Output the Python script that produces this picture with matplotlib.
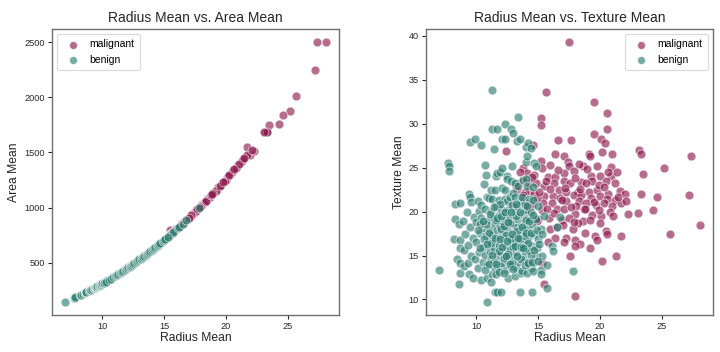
import matplotlib
matplotlib.use("Agg")
import matplotlib.pyplot as plt

benign_radius = [7.0, 7.7, 7.8, 7.8, 8.2, 8.3, 8.3, 8.4, 8.6, 8.6, 8.7, 8.7, 8.7, 8.7, 8.7, 8.9, 9.0, 9.0, 9.1, 9.2,
                 9.3, 9.3, 9.4, 9.4, 9.5, 9.5, 9.5, 9.6, 9.6, 9.7, 9.7, 9.8, 9.9, 9.9, 10.0, 10.0, 10.1, 10.1, 10.2, 10.2,
                 10.3, 10.4, 10.4, 10.4, 10.4, 10.5, 10.5, 10.6, 10.6, 10.7, 10.7, 10.7, 10.8, 10.8, 10.9, 10.9, 10.9, 10.9, 11.0, 11.0,
                 11.0, 11.1, 11.1, 11.2, 11.2, 11.2, 11.3, 11.3, 11.3, 11.3, 11.3, 11.4, 11.4, 11.4, 11.5, 11.5, 11.5, 11.5, 11.6, 11.6,
                 11.6, 11.6, 11.7, 11.7, 11.7, 11.7, 11.7, 11.8, 11.8, 11.8, 11.9, 11.9, 11.9, 12.0, 12.0, 12.0, 12.0, 12.1, 12.1, 12.1,
                 12.1, 12.1, 12.2, 12.2, 12.3, 12.3, 12.3, 12.3, 12.3, 12.3, 12.4, 12.4, 12.4, 12.5, 12.5, 12.5, 12.5, 12.5, 12.6, 12.6,
                 12.6, 12.7, 12.7, 12.7, 12.8, 12.8, 12.8, 12.8, 12.9, 12.9, 12.9, 13.0, 13.0, 13.0, 13.0, 13.1, 13.1, 13.1, 13.1, 13.1,
                 13.2, 13.2, 13.2, 13.3, 13.3, 13.3, 13.4, 13.4, 13.4, 13.4, 13.5, 13.5, 13.5, 13.5, 13.6, 13.6, 13.6, 13.7, 13.7, 13.7,
                 13.7, 13.8, 13.8, 13.8, 13.9, 13.9, 14.0, 14.0, 14.0, 14.0, 14.0, 14.1, 14.1, 14.1, 14.1, 14.1, 14.2, 14.2, 14.2, 14.3,
                 14.3, 14.4, 14.4, 14.4, 14.5, 14.5, 14.5, 14.6, 14.6, 14.6, 14.6, 14.7, 14.7, 14.8, 14.8, 14.8, 14.9, 15.0, 15.0, 15.2,
                 15.2, 15.2, 15.3, 15.5, 15.7, 15.7, 16.1, 16.2, 16.5, 16.8, 17.8,
                 10.8, 11.0, 11.2, 11.4, 11.6, 11.8, 12.0, 12.2, 12.4, 12.6, 12.7, 12.9, 13.0, 13.2, 13.3, 13.5, 13.6, 13.9, 14.0, 14.2,
                 14.4, 10.6, 10.3, 11.9, 12.8, 13.9,
                 10.1, 10.3, 10.5, 10.7, 10.9, 11.0, 11.1, 11.2, 11.3, 11.4, 11.5, 11.6, 11.7, 11.8, 11.9, 12.0, 12.1, 12.2, 12.2, 12.3,
                 12.4, 12.5, 12.6, 12.7, 12.8, 12.9, 13.0, 13.1, 13.2, 13.3, 13.4, 13.5, 13.6, 13.7, 13.8, 13.9, 14.0, 14.1, 14.2, 14.3,
                 14.4, 14.5, 14.6, 14.7, 14.9, 15.0, 15.1, 15.3]
benign_texture = [13.4, 25.5, 25.2, 24.6, 16.9, 20.9, 19.2, 14.6, 11.8, 18.6, 21.0, 16.8, 15.9, 14.2, 13.0, 18.9, 15.6, 13.8, 17.4, 19.9,
                  14.2, 16.2, 12.9, 22.0, 21.7, 27.9, 18.3, 21.1, 15.0, 12.4, 17.0, 19.4, 28.2, 14.6, 16.5, 18.8, 21.2, 13.6, 20.1, 15.4,
                  17.6, 27.6, 20.8, 12.2, 19.3, 14.3, 16.0, 23.1, 18.1, 25.3, 20.3, 15.1, 24.2, 17.2, 9.7, 12.4, 21.6, 13.9, 19.0, 16.6,
                  21.5, 15.5, 18.0, 22.5, 14.6, 20.0, 33.8, 29.4, 12.9, 17.3, 21.4, 27.1, 19.3, 15.9, 10.8, 22.5, 13.6, 18.6, 24.0, 16.8,
                  12.9, 20.6, 29.4, 10.8, 24.4, 14.9, 17.9, 21.3, 19.6, 16.2, 24.5, 13.8, 18.4, 10.9, 15.4, 17.1, 20.3, 28.2, 25.0, 22.7,
                  14.2, 18.9, 16.5, 19.8, 30.0, 28.2, 22.4, 21.4, 15.0, 17.7, 13.3, 19.0, 16.0, 24.1, 23.7, 21.2, 18.2, 14.5, 12.4, 17.0,
                  20.2, 21.6, 15.6, 19.4, 29.4, 23.5, 13.8, 17.6, 25.2, 16.4, 20.8, 28.9, 18.7, 14.8, 22.1, 12.7, 23.2, 21.7, 17.2, 19.9,
                  15.4, 13.6, 18.2, 28.0, 16.6, 20.6, 30.7, 22.9, 14.3, 19.1, 28.2, 10.9, 17.5, 15.8, 21.2, 18.4, 13.0, 21.7, 13.2, 16.3,
                  19.7, 14.8, 17.9, 23.6, 15.5, 18.9, 27.3, 25.6, 23.7, 20.2, 16.8, 26.3, 22.9, 13.0, 14.3, 18.1, 27.8, 19.3, 15.6, 21.4,
                  17.2, 27.2, 13.6, 20.0, 10.9, 16.1, 18.6, 22.8, 21.3, 14.2, 13.2, 25.5, 17.4, 25.2, 14.9, 19.2, 15.8, 16.9, 20.6, 13.3,
                  12.9, 18.0, 15.0, 19.5, 11.3, 13.9, 16.1, 15.5, 18.3, 19.4, 13.2,
                  18.6, 17.6, 16.4, 14.3, 19.0, 15.5, 18.0, 14.7, 17.3, 15.2, 18.7, 14.2, 16.0, 19.5, 17.8, 16.9, 14.6, 17.2, 19.0, 16.4,
                  15.1, 16.9, 18.6, 20.9, 16.9, 20.8,
                  17.9, 15.9, 18.9, 13.3, 16.3, 14.0, 19.7, 12.0, 15.1, 20.5, 17.0, 14.0, 19.3, 13.1, 16.9, 19.5, 16.0, 13.0, 18.4, 19.9,
                  14.9, 16.6, 18.8, 14.0, 20.0, 17.4, 13.5, 16.1, 20.9, 14.9, 17.0, 20.0, 16.0, 18.3, 15.9, 13.9, 17.6, 20.6, 14.1, 18.9,
                  17.6, 14.3, 19.6, 15.6, 17.9, 14.4, 16.3, 17.4]
benign_area = [144, 178, 181, 186, 204, 210, 212, 216, 227, 229, 233, 236, 231, 238, 234, 244, 250, 253, 257, 262,
               268, 271, 274, 276, 280, 283, 278, 287, 290, 293, 296, 299, 305, 302, 311, 314, 317, 320, 324, 327,
               331, 337, 340, 335, 342, 344, 347, 351, 354, 358, 361, 356, 364, 367, 371, 368, 374, 370, 378, 381,
               376, 385, 388, 392, 395, 390, 399, 402, 397, 404, 400, 406, 409, 404, 413, 416, 411, 418, 421, 424,
               419, 426, 428, 431, 426, 433, 429, 435, 438, 433, 443, 446, 441, 450, 453, 448, 455, 458, 461, 456,
               463, 459, 466, 469, 473, 476, 471, 478, 474, 470, 481, 484, 479, 489, 492, 487, 494, 486, 497, 500,
               495, 505, 508, 503, 513, 516, 511, 518, 521, 524, 519, 529, 532, 527, 534, 537, 540, 535, 542, 538,
               545, 548, 543, 554, 557, 552, 562, 565, 560, 567, 571, 574, 569, 576, 579, 582, 577, 588, 591, 586,
               593, 596, 599, 594, 605, 608, 614, 617, 612, 619, 611, 623, 626, 621, 628, 620, 631, 634, 629, 640,
               643, 649, 652, 647, 659, 662, 656, 668, 671, 666, 664, 677, 680, 686, 689, 684, 695, 705, 708, 724,
               727, 721, 733, 752, 772, 775, 812, 822, 853, 884, 992,
               366, 379, 393, 408, 422, 436, 451, 467, 482, 498, 506, 522, 530, 546, 555, 572, 580, 606, 615, 632,
               650, 352, 333, 444, 514, 604,
               318, 330, 345, 357, 372, 380, 386, 393, 400, 407, 414, 420, 429, 436, 442, 451, 459, 467, 465, 474,
               482, 490, 498, 506, 514, 522, 530, 538, 546, 555, 563, 572, 580, 589, 597, 606, 615, 624, 632, 641,
               650, 660, 669, 678, 696, 706, 716, 734]

malignant_radius = [17.5, 15.6, 19.5, 20.6, 15.2, 15.2, 20.6, 19.5, 17.7, 16.6, 20.1, 20.4, 14.6, 12.4, 23.2, 23.3, 27.4, 19.1, 19.2, 20.2,
                    21.0, 17.1, 17.4, 17.5, 25.2, 18.6, 19.8, 20.9, 23.5, 15.2, 15.3, 13.8, 14.1, 14.7, 17.1, 17.9, 15.8, 16.4, 19.3, 20.0,
                    20.9, 17.1, 17.6, 18.5, 19.4, 20.5, 21.2, 13.7, 14.3, 14.8, 16.3, 15.5, 16.7, 17.3, 18.2, 19.1, 19.8, 21.6, 23.3, 22.0,
                    24.6, 20.7, 20.0, 15.5, 16.2, 16.8, 17.9, 18.5, 19.3, 20.6, 21.2, 21.7, 14.3, 14.7, 13.3, 13.9, 15.4, 16.1, 17.3, 18.3,
                    18.9, 19.7, 20.3, 21.0, 24.3, 23.1, 22.3, 15.3, 15.7, 16.5, 17.1, 18.1, 18.0, 19.4, 20.1, 15.9, 16.9, 17.5, 18.6, 19.2,
                    18.2, 20.0, 28.1, 27.2, 16.0, 16.5, 20.5, 20.6, 21.7, 25.7, 17.3, 18.0, 18.4, 17.1, 18.0, 19.2, 21.3, 20.2, 17.6, 15.3,
                    15.5, 18.0, 12.9, 13.2, 14.0, 14.5, 13.5, 14.9, 15.0, 14.2, 18.3, 19.9, 18.7, 21.4, 16.0, 17.8, 19.6, 16.4,
                    15.1, 15.6, 16.0, 16.6, 16.9, 17.2, 17.7, 18.0, 18.4, 18.8, 19.0, 19.5, 19.9, 20.3, 20.8, 21.1, 21.5, 22.1, 17.0, 16.4,
                    15.8, 18.8, 19.8, 14.9, 14.5, 13.8, 16.3, 17.9, 18.9, 20.7]
malignant_texture = [39.3, 33.6, 32.5, 31.2, 30.6, 29.8, 29.4, 28.8, 28.1, 28.1, 28.3, 27.8, 27.6, 26.9, 27.0, 26.6, 26.3, 26.6, 26.3, 26.8,
                     26.6, 26.3, 25.6, 25.2, 24.9, 25.2, 25.2, 25.1, 24.3, 25.7, 25.0, 24.9, 24.4, 24.2, 24.4, 24.6, 23.9, 23.9, 24.0, 24.0,
                     24.0, 23.5, 23.2, 23.4, 23.5, 23.5, 23.2, 23.5, 23.2, 23.2, 23.2, 22.9, 22.5, 22.2, 22.2, 22.2, 22.4, 22.3, 22.0, 22.0,
                     21.6, 22.0, 21.8, 21.8, 21.8, 21.5, 21.9, 21.9, 21.5, 21.4, 21.3, 21.0, 22.3, 22.0, 22.5, 22.2, 21.0, 21.0, 21.2, 21.2,
                     21.0, 20.8, 21.0, 20.6, 20.2, 19.8, 19.7, 20.2, 20.3, 20.3, 20.3, 20.6, 19.7, 19.6, 19.5, 19.3, 19.0, 19.3, 18.9, 19.0,
                     18.7, 18.7, 18.5, 21.9, 18.0, 18.2, 17.8, 17.4, 17.2, 17.5, 17.0, 16.8, 16.3, 16.5, 16.1, 15.9, 15.0, 14.4, 15.0, 14.2,
                     11.8, 10.4, 20.6, 22.9, 21.0, 23.9, 24.5, 21.5, 19.1, 20.2, 25.4, 23.0, 20.3, 24.5, 25.3, 18.0, 17.2, 26.5,
                     22.2, 23.5, 22.6, 24.7, 21.3, 22.7, 20.5, 23.8, 22.6, 20.3, 24.8, 21.1, 20.2, 22.8, 20.0, 19.5, 21.6, 21.2, 18.5, 17.0,
                     16.5, 17.6, 16.8, 18.9, 20.7, 21.9, 19.8, 18.8, 23.2, 24.5]
malignant_area = [962, 764, 1195, 1333, 726, 730, 1336, 1198, 984, 866, 1269, 1307, 670, 475, 1685, 1686, 2501, 1146, 1158, 1282,
                  1385, 918, 951, 965, 1878, 1087, 1232, 1372, 1747, 722, 735, 598, 625, 679, 921, 1007, 784, 845, 1170, 1257,
                  1375, 915, 973, 1075, 1182, 1320, 1412, 590, 642, 688, 835, 800, 876, 940, 1041, 1149, 1235, 1466, 1686, 1480,
                  1841, 1346, 1260, 760, 824, 887, 1010, 1078, 1173, 1330, 1415, 1546, 645, 682, 556, 607, 745, 814, 943, 1052,
                  1122, 1219, 1295, 1388, 1761, 1682, 1509, 738, 774, 855, 918, 1029, 1018, 1185, 1272, 794, 897, 959, 1090, 1161,
                  1044, 1254, 2499, 2250, 804, 858, 1323, 1338, 1479, 2010, 937, 1021, 1064, 915, 1015, 1155, 1425, 1285, 970, 733,
                  758, 1016, 523, 547, 616, 661, 573, 697, 707, 633, 1055, 1244, 1099, 1439, 807, 995, 1207, 848,
                  716, 765, 806, 866, 897, 929, 984, 1018, 1064, 1110, 1134, 1195, 1244, 1295, 1359, 1398, 1452, 1520, 908, 845,
                  784, 1110, 1232, 697, 661, 598, 835, 1007, 1122, 1346]

labels = ["malignant", "benign"]
colors = ["#8e1d50", "#2f7f73"]

plt.rcParams['font.family'] = ['Liberation Sans', 'DejaVu Sans']

fig = plt.figure(figsize=(7.2, 3.52), dpi=100)
ax1 = fig.add_axes([0.0722, 0.105, 0.3986, 0.8125])
ax2 = fig.add_axes([0.5917, 0.105, 0.3986, 0.8125])

kw = dict(s=40, alpha=0.65, edgecolors="white", linewidths=0.6)
ax1.scatter(malignant_radius, malignant_area, color=colors[0], label=labels[0], **kw)
ax1.scatter(benign_radius, benign_area, color=colors[1], label=labels[1], **kw)
ax2.scatter(malignant_radius, malignant_texture, color=colors[0], label=labels[0], **kw)
ax2.scatter(benign_radius, benign_texture, color=colors[1], label=labels[1], **kw)

ax1.set_xlim(5.92, 29.17)
ax1.set_ylim(26, 2619)
ax1.set_yticks([500, 1000, 1500, 2000, 2500])
ax1.set_xticks([10, 15, 20, 25])
ax2.set_xlim(5.92, 29.17)
ax2.set_ylim(8.23, 40.76)
ax2.set_xticks([10, 15, 20, 25])
ax2.set_yticks([10, 15, 20, 25, 30, 35, 40])

for ax, t, yl, loc in [(ax1, "Radius Mean vs. Area Mean", "Area Mean", "upper left"),
                       (ax2, "Radius Mean vs. Texture Mean", "Texture Mean", "upper right")]:
    ax.set_title(t, fontsize=10, color="#262626", pad=5)
    ax.set_xlabel("Radius Mean", fontsize=8.7, color="#262626", labelpad=1)
    ax.set_ylabel(yl, fontsize=8.7, color="#262626", labelpad=3)
    ax.tick_params(labelsize=6.6, colors="#262626", length=3, width=0.8, pad=2)
    for sp in ax.spines.values():
        sp.set_color("#707070")
        sp.set_linewidth(1.0)
    leg = ax.legend(loc=loc, fontsize=7.5, frameon=True, markerscale=0.9,
                    handletextpad=0.6, borderpad=0.5)
    leg.get_frame().set_edgecolor("#d0d0d0")
    leg.get_frame().set_linewidth(0.8)

fig.savefig("out.png", dpi=100)
